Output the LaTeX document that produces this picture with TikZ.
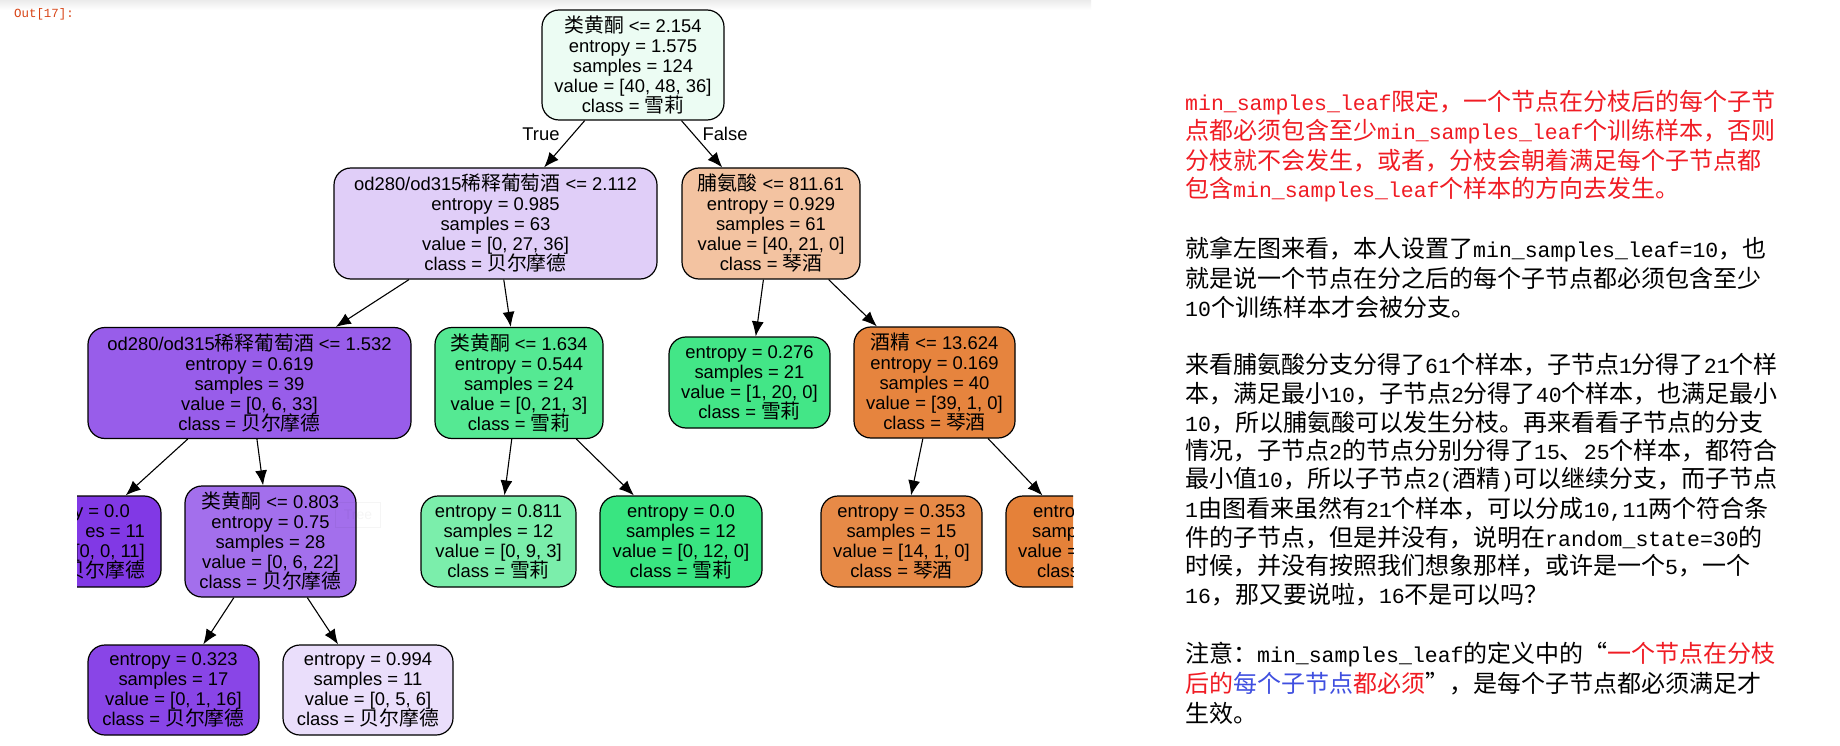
\documentclass[tikz,border=0pt]{standalone}
\usepackage{fontspec}
\usetikzlibrary{arrows.meta}
\setmainfont{Liberation Sans}
\newfontfamily\cjk{Noto Sans CJK SC}
\newfontfamily\lat{Liberation Mono}
\newcommand{\zh}[1]{{\cjk\fontsize{19.8}{20}\selectfont #1}}
\newcommand{\lm}[1]{{\lat\fontsize{21.5}{29}\selectfont #1}}
\newcommand{\treefont}{\fontsize{18.4}{20}\selectfont}
\AtBeginDocument{\lineskiplimit=-100pt \normallineskiplimit=-100pt }
\definecolor{cRoot}{HTML}{ECFCF3}
\definecolor{cA}{HTML}{E0CEF8}
\definecolor{cB}{HTML}{F3C3A1}
\definecolor{cC}{HTML}{985DEA}
\definecolor{cD}{HTML}{55E993}
\definecolor{cE}{HTML}{43E687}
\definecolor{cF}{HTML}{E6843E}
\definecolor{cG}{HTML}{8139E5}
\definecolor{cH}{HTML}{A36FEC}
\definecolor{cI}{HTML}{7BEEAB}
\definecolor{cJ}{HTML}{39E581}
\definecolor{cK}{HTML}{E78A47}
\definecolor{cL}{HTML}{E58139}
\definecolor{cM}{HTML}{8945E7}
\definecolor{cN}{HTML}{EADEFB}
\definecolor{txtred}{HTML}{F01C24}
\definecolor{txtblue}{HTML}{3F4FE0}
\definecolor{outred}{HTML}{D84315}
\tikzset{
  x=1pt,y=-1pt,
  treenode/.style={draw=black,line width=1.2pt,rounded corners=17pt,align=center,inner sep=0pt,font=\treefont},
  edgelabel/.style={font=\treefont,inner sep=0pt},
  linkarrow/.style={line width=1.1pt,-{Latex[length=15pt,width=12pt]}},
  noteline/.style={anchor=west,inner sep=0pt,font=\cjk\fontsize{24}{29}\selectfont},
}
\begin{document}
\begin{tikzpicture}
\useasboundingbox (0,0) rectangle (1840,746);
\fill[white] (0,0) rectangle (1840,746);
\shade[top color=black!8,bottom color=white,draw=none] (0,0) rectangle (1091,10);
\node[anchor=west,inner sep=0pt,text=outred,font=\lat\fontsize{12.4}{16}\selectfont] (out) at (14,14) {Out[17]:};

\begin{scope}
\clip (77,0) rectangle (1073,746);
\node[treenode,fill=cRoot,minimum width=182pt,minimum height=110pt] (n0) at (633,65)
  {\zh{类黄酮} <= 2.154\\entropy = 1.575\\samples = 124\\value = [40, 48, 36]\\class = \zh{雪莉}};
\node[treenode,fill=cA,minimum width=323pt,minimum height=111pt] (n1) at (495.5,223.5)
  {od280/od315\zh{稀释葡萄酒} <= 2.112\\entropy = 0.985\\samples = 63\\value = [0, 27, 36]\\class = \zh{贝尔摩德}};
\node[treenode,fill=cB,minimum width=178pt,minimum height=111pt] (n2) at (771,223.5)
  {\zh{脯氨酸} <= 811.61\\entropy = 0.929\\samples = 61\\value = [40, 21, 0]\\class = \zh{琴酒}};
\node[treenode,fill=cC,minimum width=323pt,minimum height=111pt] (n3) at (249.5,383)
  {od280/od315\zh{稀释葡萄酒} <= 1.532\\entropy = 0.619\\samples = 39\\value = [0, 6, 33]\\class = \zh{贝尔摩德}};
\node[treenode,fill=cD,minimum width=168pt,minimum height=111pt] (n4) at (519,383)
  {\zh{类黄酮} <= 1.634\\entropy = 0.544\\samples = 24\\value = [0, 21, 3]\\class = \zh{雪莉}};
\node[treenode,fill=cE,minimum width=161pt,minimum height=91pt] (n5) at (749.5,382.5)
  {entropy = 0.276\\samples = 21\\value = [1, 20, 0]\\class = \zh{雪莉}};
\node[treenode,fill=cF,minimum width=161pt,minimum height=111pt] (n6) at (934.5,382.5)
  {\zh{酒精} <= 13.624\\entropy = 0.169\\samples = 40\\value = [39, 1, 0]\\class = \zh{琴酒}};
\node[treenode,fill=cG,minimum width=172pt,minimum height=91pt] (n7) at (75,541.5) {};
\node[anchor=east,align=right,inner sep=0pt,font=\treefont] (n7text) at (145,541.5)
  {y = 0.0\hspace*{15pt}\\es = 11\hspace*{16pt}\\{}[0, 0, 11]\hspace*{2pt}\\\zh{贝尔摩德}};
\node[treenode,fill=cH,minimum width=171pt,minimum height=111pt] (n8) at (270.5,541.5)
  {\zh{类黄酮} <= 0.803\\entropy = 0.75\\samples = 28\\value = [0, 6, 22]\\class = \zh{贝尔摩德}};
\node[treenode,fill=cI,minimum width=155pt,minimum height=91pt] (n9) at (498.5,541.5)
  {entropy = 0.811\\samples = 12\\value = [0, 9, 3]\\class = \zh{雪莉}};
\node[treenode,fill=cJ,minimum width=162pt,minimum height=91pt] (n10) at (681,541.5)
  {entropy = 0.0\\samples = 12\\value = [0, 12, 0]\\class = \zh{雪莉}};
\node[treenode,fill=cK,minimum width=161pt,minimum height=91pt] (n11) at (901.5,541.5)
  {entropy = 0.353\\samples = 15\\value = [14, 1, 0]\\class = \zh{琴酒}};
\node[treenode,fill=cL,minimum width=161pt,minimum height=91pt] (n12) at (1086.5,541.5) {};
\node[anchor=west,align=left,inner sep=0pt,font=\treefont] (n12text) at (1018,541.5)
  {\hspace*{15pt}entro\\\hspace*{14pt}samp\\value =\\\hspace*{19pt}class};
\node[treenode,fill=cM,minimum width=171pt,minimum height=90pt] (n13) at (173.5,690)
  {entropy = 0.323\\samples = 17\\value = [0, 1, 16]\\class = \zh{贝尔摩德}};
\node[treenode,fill=cN,minimum width=170pt,minimum height=90pt] (n14) at (368,690)
  {entropy = 0.994\\samples = 11\\value = [0, 5, 6]\\class = \zh{贝尔摩德}};
\draw[linkarrow] (n0) -- (n1);
\draw[linkarrow] (n0) -- (n2);
\draw[linkarrow] (n1) -- (n3);
\draw[linkarrow] (n1) -- (n4);
\draw[linkarrow] (n2) -- (n5);
\draw[linkarrow] (n2) -- (n6);
\draw[linkarrow] (n3) -- (n7);
\draw[linkarrow] (n3) -- (n8);
\draw[linkarrow] (n4) -- (n9);
\draw[linkarrow] (n4) -- (n10);
\draw[linkarrow] (n6) -- (n11);
\draw[linkarrow] (n6) -- (n12);
\draw[linkarrow] (n8) -- (n13);
\draw[linkarrow] (n8) -- (n14);
\end{scope}

\node[edgelabel] (ltrue) at (541,134) {True};
\node[edgelabel] (lfalse) at (725,134) {False};
\node[draw=black,text=black,opacity=0.04,inner sep=0pt,minimum width=45pt,minimum height=25pt,font=\fontsize{14}{16}\selectfont] (mark) at (358,514.5) {Tree};

\begin{scope}[text=txtred]
\node[noteline] (p1a) at (1185,103) {\lm{min\_samples\_leaf}限定，一个节点在分枝后的每个子节};
\node[noteline] (p1b) at (1185,132) {点都必须包含至少\lm{min\_samples\_leaf}个训练样本，否则};
\node[noteline] (p1c) at (1185,161) {分枝就不会发生，或者，分枝会朝着满足每个子节点都};
\node[noteline] (p1d) at (1185,190) {包含\lm{min\_samples\_leaf}个样本的方向去发生。};
\end{scope}
\node[noteline] (p2a) at (1185,249) {就拿左图来看，本人设置了\lm{min\_samples\_leaf=10}，也};
\node[noteline] (p2b) at (1185,278) {就是说一个节点在分之后的每个子节点都必须包含至少};
\node[noteline] (p2c) at (1185,307) {\lm{10}个训练样本才会被分支。};
\node[noteline] (p3a) at (1185,365) {来看脯氨酸分支分得了\lm{61}个样本，子节点\lm{1}分得了\lm{21}个样};
\node[noteline] (p3b) at (1185,394) {本，满足最小\lm{10}，子节点\lm{2}分得了\lm{40}个样本，也满足最小};
\node[noteline] (p3c) at (1185,423) {\lm{10}，所以脯氨酸可以发生分枝。再来看看子节点的分支};
\node[noteline] (p3d) at (1185,451) {情况，子节点\lm{2}的节点分别分得了\lm{15}、\lm{25}个样本，都符合};
\node[noteline] (p3e) at (1185,480) {最小值\lm{10}，所以子节点\lm{2(}酒精\lm{)}可以继续分支，而子节点};
\node[noteline] (p3f) at (1185,509) {\lm{1}由图看来虽然有\lm{21}个样本，可以分成\lm{10,11}两个符合条};
\node[noteline] (p3g) at (1185,538) {件的子节点，但是并没有，说明在\lm{random\_state=30}的};
\node[noteline] (p3h) at (1185,566) {时候，并没有按照我们想象那样，或许是一个\lm{5}，一个};
\node[noteline] (p3i) at (1185,595) {\lm{16}，那又要说啦，\lm{16}不是可以吗？};
\node[noteline] (p4a) at (1185,655) {注意：\lm{min\_samples\_leaf}的定义中的“\textcolor{txtred}{一个节点在分枝}};
\node[noteline] (p4b) at (1185,684) {\textcolor{txtred}{后的}\textcolor{txtblue}{每个子节点}\textcolor{txtred}{都必须}”，是每个子节点都必须满足才};
\node[noteline] (p4c) at (1185,713) {生效。};
\end{tikzpicture}
\end{document}
